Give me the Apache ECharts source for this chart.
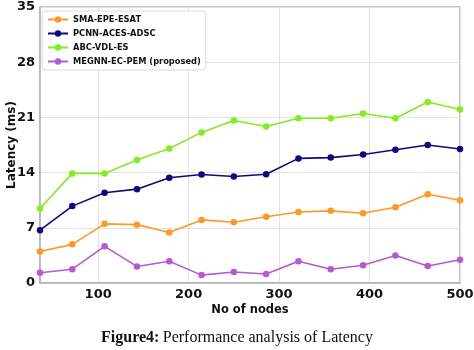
<!DOCTYPE html>
<html>
<head>
<meta charset="utf-8">
<script src="https://cdn.jsdelivr.net/npm/echarts@6/dist/echarts.min.js"></script>
<style>
  html, body { margin: 0; padding: 0; background: #fff; }
  #chart { width: 474px; height: 350px; }
</style>
</head>
<body>
<div id="chart"></div>
<script>
// number of nodes (500/14 steps)
const nodes = [35.7, 71.4, 107.1, 142.9, 178.6, 214.3, 250, 285.7, 321.4, 357.1, 392.9, 428.6, 464.3, 500];

const seriesNames = ['SMA-EPE-ESAT', 'PCNN-ACES-ADSC', 'ABC-VDL-ES', 'MEGNN-EC-PEM (proposed)'];
const seriesColors = ['#ff9922', '#0a0a80', '#80ee20', '#b559d6'];

// latency (ms)
const smaEpeEsat = [4.0, 4.9, 7.5, 7.4, 6.4, 8.0, 7.7, 8.4, 9.0, 9.15, 8.85, 9.6, 11.25, 10.5];
const pcnnAcesAdsc = [6.7, 9.75, 11.45, 11.9, 13.35, 13.75, 13.5, 13.8, 15.8, 15.9, 16.3, 16.9, 17.5, 17.0];
const abcVdlEs = [9.45, 13.9, 13.9, 15.6, 17.05, 19.1, 20.6, 19.85, 20.9, 20.9, 21.5, 20.9, 22.95, 22.0];
const megnnEcPem = [1.3, 1.75, 4.65, 2.1, 2.75, 1.0, 1.4, 1.15, 2.75, 1.75, 2.25, 3.5, 2.15, 2.95];

const yTicks = [0, 7, 14, 21, 28, 35];

const allValues = [smaEpeEsat, pcnnAcesAdsc, abcVdlEs, megnnEcPem];

const boldFont = 'DejaVu Sans';
const chart = echarts.init(document.getElementById('chart'), null, { renderer: 'canvas' });

const option = {
  animation: false,
  grid: {
    left: 40, right: 14, top: 7, bottom: 67,
    outerBoundsMode: 'none',
    containLabel: false,
    show: true, borderColor: '#b4b4b4', borderWidth: 1.5, backgroundColor: 'transparent'
  },
  legend: {
    orient: 'vertical',
    left: 42, top: 11,
    padding: [4, 5, 4, 5],
    backgroundColor: '#fff',
    borderColor: '#dcdcdc',
    borderWidth: 1,
    borderRadius: 3,
    itemWidth: 20,
    itemHeight: 8,
    itemGap: 5,
    textStyle: { fontFamily: boldFont, fontWeight: 'bold', fontSize: 8.3, color: '#111', lineHeight: 9 },
    data: seriesNames
  },
  xAxis: {
    type: 'value',
    min: nodes[0], max: 500,
    name: 'No of nodes',
    nameLocation: 'middle',
    nameGap: 21,
    nameMoveOverlap: false,
    nameTextStyle: { fontFamily: boldFont, fontWeight: 'bold', fontSize: 11.5, color: '#111' },
    axisLine: { show: true, lineStyle: { color: '#b4b4b4', width: 1.5 } },
    axisTick: { show: false },
    axisLabel: {
      fontFamily: boldFont, fontWeight: 'bold', fontSize: 13, color: '#111', margin: 5,
      formatter: v => (Math.abs(v % 100) < 1e-6 ? String(v) : '')
    },
    splitLine: { show: true, lineStyle: { color: '#e2e2e2', width: 1 } }
  },
  yAxis: {
    type: 'value',
    min: yTicks[0], max: yTicks[yTicks.length - 1], interval: 7,
    name: 'Latency (ms)',
    nameLocation: 'middle',
    nameGap: 22,
    nameMoveOverlap: false,
    nameTextStyle: { fontFamily: boldFont, fontWeight: 'bold', fontSize: 12, color: '#111' },
    axisLine: { show: true, lineStyle: { color: '#b4b4b4', width: 1.5 } },
    axisTick: { show: false },
    axisLabel: {
      fontFamily: boldFont, fontWeight: 'bold', fontSize: 13, color: '#111', margin: 5,
      formatter: v => (yTicks.includes(v) ? String(v) : '')
    },
    splitLine: { show: true, lineStyle: { color: '#e2e2e2', width: 1 } }
  },
  graphic: [{
    type: 'text',
    left: 'center',
    top: 330,
    style: {
      text: '{b|Figure4:} {n|Performance analysis of Latency}',
      rich: {
        b: { fontFamily: 'Liberation Serif', fontWeight: 'bold', fontSize: 16, fill: '#111' },
        n: { fontFamily: 'Liberation Serif', fontSize: 16, fill: '#111' }
      }
    }
  }],
  series: seriesNames.map((name, i) => ({
    name: name,
    type: 'line',
    data: nodes.map((x, j) => [x, allValues[i][j]]),
    symbol: 'circle',
    symbolSize: 6.5,
    color: seriesColors[i],
    lineStyle: { width: 1.6, color: seriesColors[i] },
    itemStyle: { color: seriesColors[i] },
    z: 3 + i
  }))
};

chart.setOption(option);
</script>
</body>
</html>
